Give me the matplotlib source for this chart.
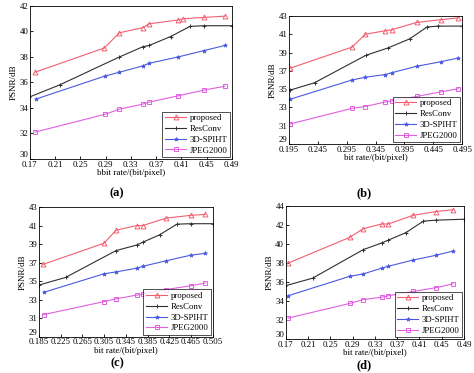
import matplotlib.pyplot as plt
import numpy as np

plt.rcParams['font.family'] = ['Liberation Serif', 'DejaVu Serif']

series_names = ['proposed', 'ResConv', '3D-SPIHT', 'JPEG2000']

# panel (a)
a_x_prop = [0.178, 0.288, 0.312, 0.349, 0.359, 0.405, 0.413, 0.446, 0.479]
a_y_prop = [36.8, 38.7, 39.9, 40.3, 40.6, 40.9, 41.0, 41.1, 41.2]
a_x_res = [0.169, 0.217, 0.312, 0.349, 0.359, 0.393, 0.424, 0.446, 0.491]
a_y_res = [34.85, 35.8, 38.0, 38.8, 38.9, 39.6, 40.4, 40.45, 40.45]
a_x_spi = [0.180, 0.289, 0.312, 0.349, 0.359, 0.405, 0.446, 0.479]
a_y_spi = [34.7, 36.5, 36.8, 37.3, 37.5, 38.0, 38.5, 38.9]
a_x_jpg = [0.178, 0.289, 0.312, 0.349, 0.359, 0.405, 0.446, 0.479]
a_y_jpg = [32.1, 33.5, 33.9, 34.3, 34.45, 34.95, 35.4, 35.7]

# panel (b)
b_x_prop = [0.197, 0.304, 0.327, 0.362, 0.373, 0.416, 0.458, 0.488]
b_y_prop = [37.3, 39.6, 41.0, 41.4, 41.5, 42.3, 42.6, 42.8]
b_x_res = [0.197, 0.239, 0.328, 0.366, 0.404, 0.434, 0.453, 0.495]
b_y_res = [34.9, 35.7, 38.7, 39.5, 40.5, 41.8, 41.9, 41.9]
b_x_spi = [0.197, 0.304, 0.327, 0.362, 0.373, 0.416, 0.458, 0.488]
b_y_spi = [33.9, 36.0, 36.3, 36.6, 36.8, 37.5, 38.0, 38.4]
b_x_jpg = [0.197, 0.304, 0.327, 0.362, 0.373, 0.416, 0.458, 0.488]
b_y_jpg = [31.2, 32.9, 33.1, 33.6, 33.7, 34.2, 34.7, 35.05]

# panel (c)
c_x_prop = [0.192, 0.305, 0.327, 0.365, 0.376, 0.419, 0.464, 0.491]
c_y_prop = [36.8, 39.1, 40.5, 41.0, 41.0, 41.8, 42.1, 42.2]
c_x_res = [0.186, 0.234, 0.327, 0.365, 0.376, 0.407, 0.439, 0.464, 0.505]
c_y_res = [34.6, 35.4, 38.3, 38.9, 39.2, 40.0, 41.15, 41.2, 41.2]
c_x_spi = [0.194, 0.305, 0.327, 0.365, 0.376, 0.419, 0.464, 0.491]
c_y_spi = [33.8, 35.8, 36.0, 36.4, 36.6, 37.2, 37.8, 38.0]
c_x_jpg = [0.194, 0.305, 0.327, 0.365, 0.376, 0.419, 0.464, 0.491]
c_y_jpg = [31.4, 32.8, 33.1, 33.5, 33.6, 34.1, 34.5, 34.8]

# panel (d)
d_x_prop = [0.174, 0.285, 0.309, 0.342, 0.354, 0.398, 0.439, 0.470]
d_y_prop = [37.98, 40.7, 41.6, 42.1, 42.1, 43.0, 43.4, 43.6]
d_x_res = [0.169, 0.218, 0.309, 0.342, 0.354, 0.386, 0.417, 0.440, 0.490]
d_y_res = [35.6, 36.4, 39.4, 40.1, 40.4, 41.2, 42.4, 42.5, 42.6]
d_x_spi = [0.174, 0.285, 0.309, 0.342, 0.354, 0.398, 0.439, 0.470]
d_y_spi = [34.55, 36.6, 36.85, 37.45, 37.65, 38.3, 38.8, 39.25]
d_x_jpg = [0.174, 0.285, 0.309, 0.342, 0.354, 0.398, 0.439, 0.470]
d_y_jpg = [32.2, 33.75, 34.15, 34.4, 34.55, 35.0, 35.4, 35.8]

styles = [
    dict(color='#f06070', marker='^', mfc='none', ms=3.5, lw=0.8, mew=0.7),
    dict(color='#303030', marker='+', ms=3.5, lw=0.8, mew=0.7),
    dict(color='#4a5ae0', marker='*', ms=3, lw=0.8, mew=0.5),
    dict(color='#e060e0', marker='s', mfc='none', ms=3, lw=0.8, mew=0.7),
]

panels = [
    dict(pos=[0.063, 0.574, 0.426, 0.410],
         data=[(a_x_prop, a_y_prop), (a_x_res, a_y_res), (a_x_spi, a_y_spi), (a_x_jpg, a_y_jpg)],
         xlim=(0.17, 0.49), xt=np.arange(0.17, 0.50, 0.04), xfmt='%.2f',
         ylim=(30, 42), yt=range(30, 43, 2), xlabel='bbit rate/(bit/pixel)',
         tag='(a)', tagpos=(0.247, 0.483)),
    dict(pos=[0.610, 0.614, 0.365, 0.343],
         data=[(b_x_prop, b_y_prop), (b_x_res, b_y_res), (b_x_spi, b_y_spi), (b_x_jpg, b_y_jpg)],
         xlim=(0.195, 0.495), xt=np.arange(0.195, 0.50, 0.05), xfmt='%.3f',
         ylim=(29, 43), yt=range(29, 44, 2), xlabel='bit rate/(bit/pixel)',
         tag='(b)', tagpos=(0.768, 0.483)),
    dict(pos=[0.082, 0.097, 0.367, 0.348],
         data=[(c_x_prop, c_y_prop), (c_x_res, c_y_res), (c_x_spi, c_y_spi), (c_x_jpg, c_y_jpg)],
         xlim=(0.185, 0.505), xt=np.arange(0.185, 0.51, 0.04), xfmt='%.3f',
         ylim=(29, 43), yt=range(29, 44, 2), xlabel='bit rate/(bit/pixel)',
         tag='(c)', tagpos=(0.247, 0.027)),
    dict(pos=[0.603, 0.091, 0.376, 0.357],
         data=[(d_x_prop, d_y_prop), (d_x_res, d_y_res), (d_x_spi, d_y_spi), (d_x_jpg, d_y_jpg)],
         xlim=(0.17, 0.49), xt=np.arange(0.17, 0.50, 0.04), xfmt='%.2f',
         ylim=(30, 44), yt=range(30, 45, 2), xlabel='bit rate/(bit/pixel)',
         tag='(d)', tagpos=(0.768, 0.022)),
]

fig = plt.figure(figsize=(4.74, 3.73), dpi=100)

for p in panels:
    ax = fig.add_axes(p['pos'])
    for (xs, ys), name, st in zip(p['data'], series_names, styles):
        ax.plot(xs, ys, label=name, **st)
    ax.set_xlim(*p['xlim'])
    ax.set_ylim(*p['ylim'])
    ax.set_xticks(p['xt'])
    ax.set_xticklabels([p['xfmt'] % v for v in p['xt']])
    ax.set_yticks(list(p['yt']))
    ax.tick_params(direction='in', labelsize=6.3, length=2, pad=1.2, width=0.6)
    # lowest y label sits just above the corner, as in the original
    ax.get_yticklabels()[0].set_va('bottom')
    for s in ax.spines.values():
        s.set_linewidth(0.6)
    ax.set_xlabel(p['xlabel'], fontsize=6.5, labelpad=0.5)
    ax.set_ylabel('PSNR/dB', fontsize=6.5, labelpad=1)
    leg = ax.legend(loc='lower right', fontsize=6.3, frameon=True, fancybox=False,
                    edgecolor='black', handlelength=2.4, borderpad=0.3,
                    labelspacing=0.3, handletextpad=0.4, borderaxespad=0.2)
    leg.get_frame().set_linewidth(0.6)
    fig.text(p['tagpos'][0], p['tagpos'][1], p['tag'], ha='center', va='center',
             fontsize=9, fontweight='bold')

fig.savefig('out.png', dpi=100)
